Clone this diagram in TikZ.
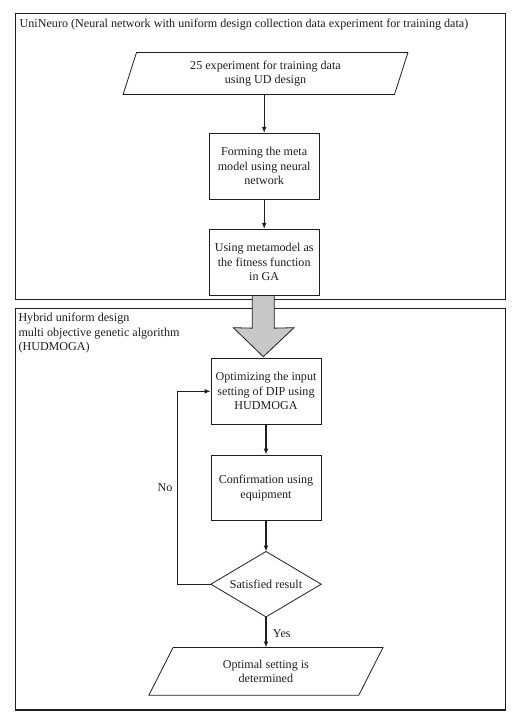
\documentclass[tikz,border=0pt]{standalone}
\usepackage{fontspec}
\setmainfont{Liberation Serif}
\usetikzlibrary{arrows.meta,calc}
\definecolor{lineC}{RGB}{30,30,30}
\definecolor{bigarrow}{RGB}{200,200,200}
\begin{document}
\begin{tikzpicture}[x=1pt,y=-1pt,
  every node/.style={font=\fontsize{12.1}{14.5}\selectfont, text=lineC},
  boxstyle/.style={draw=lineC, line width=0.8pt, minimum width=110pt, minimum height=65.5pt, align=center, inner sep=1pt},
  plainbox/.style={minimum width=#1, align=center, inner sep=1pt},
  frame/.style={draw=lineC, line width=1.1pt},
  conn/.style={draw=lineC, line width=1.3pt, -{Latex[length=6pt,width=4.8pt]}},
  shapeline/.style={draw=lineC, line width=0.8pt, line join=miter}
]
\useasboundingbox (0,0) rectangle (516,719);
% outer frames
\draw[frame] (15.5,13.5) rectangle (505.5,299.5);
\draw[frame] (15.5,308.7) rectangle (505.5,710);
\node[anchor=west, inner sep=0pt] (t1) at (19.5,25) {UniNeuro (Neural network with uniform design collection data experiment for training data)};
\node[anchor=north west, align=left, inner sep=0pt] (t2) at (18.3,313) {Hybrid uniform design\\multi objective genetic algorithm\\(HUDMOGA)};

% parallelogram 1
\node[plainbox=271pt, minimum height=41.6pt] (p1) at (265.5,73.5) {25 experiment for training data\\using UD design};
\draw[shapeline] ($(p1.north west)+(6.7,0)$) -- ($(p1.north east)+(6.7,0)$) -- ($(p1.south east)+(-6.7,0)$) -- ($(p1.south west)+(-6.7,0)$) -- cycle;

\node[boxstyle, minimum width=110.3pt, minimum height=66pt] (b1) at (264.2,166.3) {Forming the meta\\model using neural\\network};
\node[boxstyle, minimum width=110.3pt, minimum height=65.7pt] (b2) at (264.2,262.2) {Using metamodel as\\the fitness function\\in GA};

% big gray arrow
\draw[draw=lineC, line width=0.8pt, fill=bigarrow, line join=miter]
  ($(b2.south)+(-11.9,0)$) -- ++(0,32.7) -- (233.3,327.7) -- (263.3,356.7) -- (294,327.7) -- ($(b2.south)+(10.1,32.7)$) -- ($(b2.south)+(10.1,0)$) -- cycle;

\node[boxstyle] (b3) at (266,391.3) {Optimizing the input\\setting of DIP using\\HUDMOGA};
\node[boxstyle] (b4) at (266,487.8) {Confirmation using\\equipment};

% decision diamond
\node[plainbox=110pt, minimum height=65pt] (d) at (266,584.2) {Satisfied result};
\draw[shapeline] (d.north) -- (d.east) -- (d.south) -- (d.west) -- cycle;

% parallelogram 2
\node[plainbox=209.5pt, minimum height=47.3pt] (p2) at (265.9,671.4) {Optimal setting is\\determined};
\draw[shapeline] ($(p2.north west)+(12.1,0)$) -- ($(p2.north east)+(12.1,0)$) -- ($(p2.south east)+(-12.1,0)$) -- ($(p2.south west)+(-12.1,0)$) -- cycle;

% connectors
\draw[conn] (p1.south -| b1.north) -- (b1.north);
\draw[conn] (b1.south) -- (b2.north);
\draw[conn] (b3.south) -- (b4.north);
\draw[conn] (b4.south) -- (d.north);
\draw[conn] (d.south) -- node[right, xshift=3pt, yshift=-1pt] (yes) {Yes} (p2.north -| d.south);
\coordinate (fb) at (177.3,584.2);
\draw[conn] (d.west) -- (fb) |- (b3.west);
\node (no) at (165,487.3) {No};
\end{tikzpicture}
\end{document}
